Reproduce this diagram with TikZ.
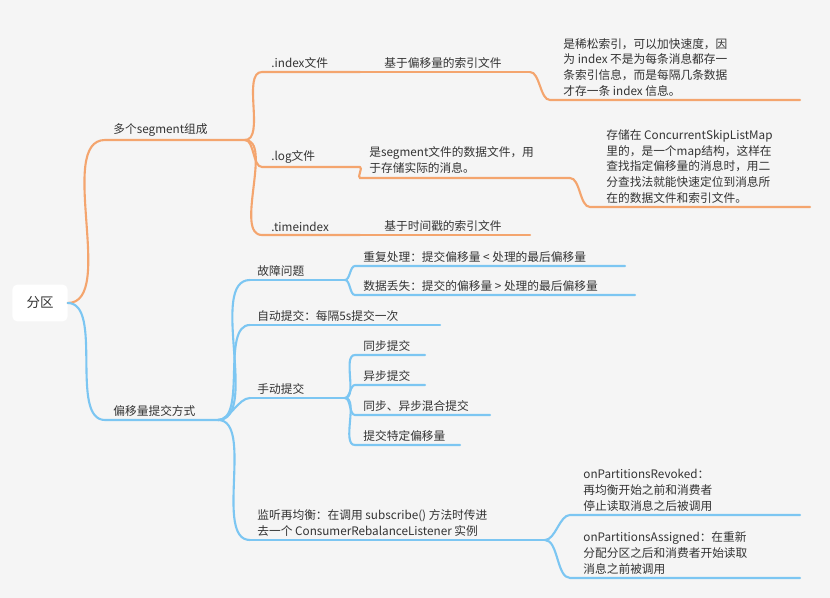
\documentclass[tikz,border=0pt]{standalone}
\usepackage{fontspec}
\setmainfont{Noto Sans CJK SC}
\begin{document}
\definecolor{orgline}{HTML}{F4A56E}
\definecolor{blueline}{HTML}{7CC6F2}
\definecolor{bgcol}{HTML}{F5F5F5}
\definecolor{txt}{HTML}{333333}
\begin{tikzpicture}[x=0.03cm,y=-0.03cm,
  lbl/.style={anchor=south west,inner sep=1pt,text=txt,font=\fontsize{10}{13.5}\selectfont},
  note/.style={lbl,align=left},
  org/.style={orgline,line width=1.8pt,line cap=round},
  blu/.style={blueline,line width=1.8pt,line cap=round},
  every to/.style={looseness=0.75}]
\fill[bgcol] (0,0) rectangle (830,598);
\node[fill=white,rounded corners=4pt,minimum width=1.65cm,minimum height=1.1cm,text=txt,font=\fontsize{11.5}{13}\selectfont] (root) at (40,303) {分区};
% orange branch
\coordinate (sa) at (105,140); \coordinate (sb) at (245,140);
\node[lbl] (seg) at (112,138) {多个segment组成};
\draw[org] (root.east) to[out=0,in=180] (sa) -- (sb);
\coordinate (ia) at (262,72); \coordinate (ib) at (360,72);
\node[lbl] at (270,70) {.index文件};
\coordinate (la) at (262,167); \coordinate (lb) at (360,167);
\node[lbl] at (270,165) {.log文件};
\coordinate (ta) at (262,235); \coordinate (tb) at (360,235);
\node[lbl] at (270,233) {.timeindex};
\draw[org] (sb) to[out=0,in=180] (ia) -- (ib);
\draw[org] (sb) to[out=0,in=180] (la) -- (lb);
\draw[org] (sb) to[out=0,in=180] (ta) -- (tb);
\coordinate (ja) at (370,72); \coordinate (jb) at (530,72);
\node[lbl] at (383,70) {基于偏移量的索引文件};
\draw[org] (ib) -- (ja) -- (jb);
\coordinate (ka) at (550,100); \coordinate (kb) at (800,100);
\node[note] at (562,98) {是稀松索引，可以加快速度，因\\为 index 不是为每条消息都存一\\条索引信息，而是每隔几条数据\\才存一条 index 信息。};
\draw[org] (jb) to[out=0,in=180] (ka) -- (kb);
\coordinate (ma) at (360,178); \coordinate (mb) at (570,178);
\node[note] at (368,175) {是segment文件的数据文件，用\\于存储实际的消息。};
\draw[org] (lb) to[out=0,in=180] (ma) -- (mb);
\coordinate (na) at (590,207); \coordinate (nb) at (810,207);
\node[note] at (605,205) {存储在 ConcurrentSkipListMap\\里的，是一个map结构，这样在\\查找指定偏移量的消息时，用二\\分查找法就能快速定位到消息所\\在的数据文件和索引文件。};
\draw[org] (mb) to[out=0,in=180] (na) -- (nb);
\coordinate (ua) at (370,235); \coordinate (ub) at (530,235);
\node[lbl] at (383,233) {基于时间戳的索引文件};
\draw[org] (tb) -- (ua) -- (ub);
% blue branch
\coordinate (oa) at (105,420); \coordinate (ob) at (218,420);
\node[lbl] at (112,418) {偏移量提交方式};
\draw[blu] (root.east) to[out=0,in=180] (oa) -- (ob);
\coordinate (fa) at (250,280); \coordinate (fb) at (345,280);
\node[lbl] at (256,278) {故障问题};
\coordinate (za) at (250,325); \coordinate (zb) at (440,325);
\node[lbl] at (256,323) {自动提交：每隔5s提交一次};
\coordinate (sda) at (250,398); \coordinate (sdb) at (345,398);
\node[lbl] at (256,396) {手动提交};
\coordinate (ra) at (250,540); \coordinate (rb) at (545,540);
\node[note] at (256,538) {监听再均衡：在调用 subscribe() 方法时传进\\去一个 ConsumerRebalanceListener 实例};
\foreach \c in {fa,za,sda,ra} \draw[blu] (ob) to[out=0,in=180] (\c);
\draw[blu] (fa) -- (fb); \draw[blu] (za) -- (zb); \draw[blu] (sda) -- (sdb); \draw[blu] (ra) -- (rb);
\coordinate (c1) at (355,266); \coordinate (c1e) at (625,266);
\node[lbl] at (362,264) {重复处理：提交偏移量 < 处理的最后偏移量};
\coordinate (c2) at (355,295); \coordinate (c2e) at (635,295);
\node[lbl] at (362,293) {数据丢失：提交的偏移量 > 处理的最后偏移量};
\foreach \a/\b in {c1/c1e,c2/c2e} \draw[blu] (fb) to[out=0,in=180] (\a) -- (\b);
\coordinate (d1) at (355,355); \coordinate (d1e) at (425,355);
\node[lbl] at (362,353) {同步提交};
\coordinate (d2) at (355,385); \coordinate (d2e) at (425,385);
\node[lbl] at (362,383) {异步提交};
\coordinate (d3) at (355,415); \coordinate (d3e) at (490,415);
\node[lbl] at (362,413) {同步、异步混合提交};
\coordinate (d4) at (355,445); \coordinate (d4e) at (460,445);
\node[lbl] at (362,443) {提交特定偏移量};
\foreach \a/\b in {d1/d1e,d2/d2e,d3/d3e,d4/d4e} \draw[blu] (sdb) to[out=0,in=180] (\a) -- (\b);
\coordinate (e1) at (570,515); \coordinate (e1e) at (800,515);
\node[note] at (582,513) {onPartitionsRevoked：\\再均衡开始之前和消费者\\停止读取消息之后被调用};
\coordinate (e2) at (570,578); \coordinate (e2e) at (800,578);
\node[note] at (582,576) {onPartitionsAssigned：在重新\\分配分区之后和消费者开始读取\\消息之前被调用};
\foreach \a/\b in {e1/e1e,e2/e2e} \draw[blu] (rb) to[out=0,in=180] (\a) -- (\b);
\end{tikzpicture}
\end{document}
